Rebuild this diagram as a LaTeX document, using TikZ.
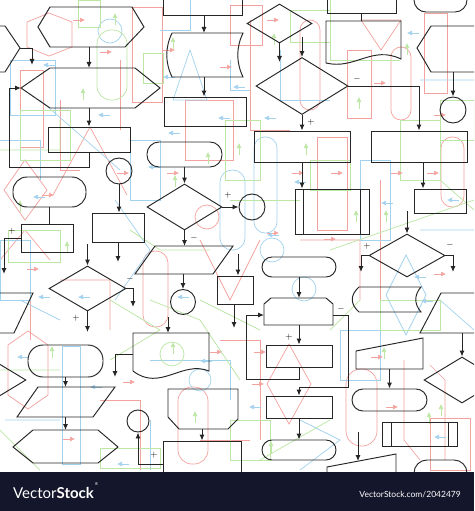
\documentclass[tikz,border=0pt]{standalone}
\usepackage{fontspec}
\usepackage{tikz}
\usetikzlibrary{positioning,arrows.meta,shapes.geometric}
\newfontfamily\logofont{Lato}
\definecolor{bgred}{HTML}{F3A29E}
\definecolor{bgblue}{HTML}{A3D2EE}
\definecolor{bggreen}{HTML}{BCE6A4}
\definecolor{banner}{HTML}{14162B}
\tikzset{
  shp/.style={draw=black!85,line width=0.95pt},
  flow/.style={shp,-{Latex[length=6pt,width=5pt]}},
  proc/.style={shp,rectangle,inner sep=0pt},
  term/.style={shp,rectangle,rounded corners=10pt,inner sep=0pt},
  dec/.style={shp,diamond,inner sep=0pt},
  conn/.style={shp,circle,inner sep=0pt,minimum size=26pt},
  sign/.style={inner sep=0pt,font=\small},
  bgr/.style={draw=bgred,line width=0.7pt},
  bgb/.style={draw=bgblue,line width=0.7pt},
  bgg/.style={draw=bggreen,line width=0.7pt},
  tipr/.style={bgr,-{Latex[length=5pt,width=5pt]}},
  tipb/.style={bgb,-{Latex[length=5pt,width=5pt]}},
  tipg/.style={bgg,-{Latex[length=5pt,width=5pt]}}
}
\begin{document}
\begin{tikzpicture}[x=1pt,y=-1pt]
  \useasboundingbox (0,0) rectangle (474,511);
  \fill[white] (0,0) rectangle (474,472);
  \begin{scope}
    \clip (0,0) rectangle (474,472);
    % pastel texture
    \draw[bgr] (132,7) rectangle (162,102);
    \draw[bgr] (49,13) -- (72,22) -- (72,47) -- (49,56) -- (27,47) -- (27,22) -- cycle;
    \draw[bgr] (53,195) -- (90,127) -- (127,195);
    \draw[bgr] (25,160) -- (47,190) -- (25,220) -- (4,190) -- cycle;
    \draw[bgr] (207,217) circle (12pt);
    \draw[bgr] (185,100) rectangle (233,160);
    \draw[bgr,rounded corners=10pt] (391,47) rectangle (411,120);
    \draw[bgr,rounded corners=11pt] (441,137) rectangle (464,207);
    \draw[bgr] (424,13) rectangle (447,93);
    \draw[bgr] (347,50) rectangle (371,118);
    \draw[bgr] (317,137) rectangle (347,230);
    \draw[bgr,rounded corners=12pt] (143,251) rectangle (168,327);
    \draw[bgr] (28,331) -- (48,345) -- (48,395) -- (28,409) -- (8,395) -- (8,345) -- cycle;
    \draw[bgr,rounded corners=14pt] (178,387) rectangle (208,464);
    \draw[bgr,rounded corners=15pt] (346,369) rectangle (377,446);
    \draw[bgr] (289,344) -- (311,384) -- (289,424) -- (267,384) -- cycle;
    \draw[bgr] (20,70) rectangle (43,147);
    \draw[bgr] (361,20) -- (401,20) -- (381,50) -- cycle;
    \draw[bgr] (430,418) rectangle (470,470);
    \draw[bgr] (60,280) -- (110,280) -- (110,330) (200,240) -- (230,300) -- (260,240);
    \draw[bgr] (250,20) -- (250,130) -- (290,130) (380,180) -- (380,300) -- (440,300);
    \draw[bgr] (100,400) -- (140,400) -- (140,470) (220,340) -- (260,340) -- (260,440);
    \draw[bgr] (404,360) -- (404,440) -- (420,460) (430,365) -- (445,380) -- (445,460);
    \draw[bgr] (230,5) rectangle (262,45);
    \draw[bgr] (0,300) -- (30,300) -- (30,340) (120,60) -- (120,130);
    \draw[bgr,rounded corners=10pt] (300,20) rectangle (320,110);
    \draw[bgr] (0,260) -- (25,230) -- (50,260) (300,240) -- (360,240) -- (360,300);
    \draw[bgr] (200,440) -- (250,440) (60,100) -- (60,170) -- (80,170);
    \draw[bgb] (110,31) circle (12pt);
    \draw[bgb] (173,100) -- (190,50) -- (207,100) -- cycle;
    \draw[bgb,rounded corners=11pt] (254,137) rectangle (277,233);
    \draw[bgb] (62,346) rectangle (80,464);
    \draw[bgb] (272,250) circle (12pt);
    \draw[bgb] (304,289) circle (12pt);
    \draw[bgb] (406,255) -- (426,295) -- (406,335) -- (386,295) -- cycle;
    \draw[bgb] (360,160) rectangle (390,240);
    \draw[bgb] (10,60) rectangle (55,115);
    \draw[bgb] (200,380) circle (11pt);
    \draw[bgb] (115,200) -- (150,250) -- (115,300) (440,300) -- (474,330);
    \draw[bgb] (0,140) -- (40,140) -- (40,180) (150,420) -- (150,470) (230,60) -- (230,90) -- (250,90);
    \draw[bgb] (300,420) -- (340,440) -- (300,470) (420,80) -- (474,80) (5,420) -- (60,420);
    \draw[bgb] (130,140) rectangle (160,200);
    \draw[bgb] (280,50) -- (280,100) -- (330,100) (0,240) rectangle (30,300);
    \draw[bgb,rounded corners=12pt] (220,170) rectangle (245,250);
    \draw[bgb] (340,330) rectangle (380,380);
    \draw[bgb] (420,230) -- (474,230) (20,300) -- (60,320) (40,100) -- (120,170);
    \draw[bgb] (150,360) -- (230,360) -- (230,400) (190,0) -- (190,30) -- (160,30);
    \draw[bgg] (78,0) rectangle (100,27);
    \draw[bgg,rounded corners=14pt] (97,30) rectangle (127,100);
    \draw[bgg] (143,53) rectangle (163,83);
    \draw[bgg] (172,354) circle (12pt);
    \draw[bgg] (8,230) rectangle (60,262);
    \draw[bgg] (225,120) rectangle (260,180);
    \draw[bgg] (290,10) rectangle (330,42);
    \draw[bgg] (440,100) rectangle (474,140);
    \draw[bgg] (100,448) rectangle (160,468);
    \draw[bgg] (380,300) rectangle (440,330);
    \draw[bgg] (230,420) rectangle (270,460);
    \draw[bgg] (0,150) -- (60,150) -- (60,120) (110,300) -- (160,330) -- (110,360);
    \draw[bgg] (330,250) -- (474,200) (0,430) -- (40,470) (200,300) -- (260,330) (330,330) -- (360,300);
    \draw[bgg] (20,110) rectangle (70,160);
    \draw[bgg] (230,200) -- (300,200) (330,0) -- (330,60) -- (400,60);
    \draw[bgg] (400,120) rectangle (440,180);
    \draw[bgg] (130,230) -- (160,250) -- (210,250) (0,370) -- (60,370);
    \draw[bgg] (260,460) -- (330,420) (150,300) -- (200,320) -- (240,380) (440,180) -- (474,210);
    \draw[bgg] (310,160) rectangle (350,190);
    \foreach \x/\y in {73/20,100/52,163/50,220/67,42/195,117/173,167/173,267/20,374/83,434/115,292/173,331/173,
      391/173,427/173,267/233,27/269,123/382,210/352,63/439,324/239,254/352,252/384,371/357,434/274,386/407}
      \draw[tipr] (\x,\y) -- ++(12,0);
    \foreach \x/\y in {55/65,110/115,175/77,245/87,230/118,180/133,160/167,45/197,276/118,419/33,306/182,
      393/203,459/200,279/235,50/297,90/297,189/297,29/357,212/361,102/387,129/464,261/407,426/277,433/301,446/437}
      \draw[tipb] (\x,\y) -- ++(-12,0);
    \foreach \x/\y in {115/25,173/49,83/100,20/212,208/164,175/187,274/45,359/109,407/55,239/155,306/155,386/222,
      356/222,67/253,173/354,195/423,52/358,271/453,429/424,441/416,384/359}
      \draw[tipg] (\x,\y) -- ++(0,-12);
    % top strip
    \node[proc,minimum width=79pt,minimum height=30pt] (Ra) at (202.5,0) {};
    \node[proc,minimum width=69pt,minimum height=30pt] (Rb) at (361.5,-2) {};
    \node[term,minimum width=53pt,minimum height=28pt,rounded corners=12pt] (Ta) at (440.5,-2) {};
    % stored data
    \draw[shp] (172,33) -- (243,33) .. controls (236,48) and (236,62) .. (243,77)
      -- (172,77) .. controls (165,62) and (165,48) .. (172,33);
    \coordinate (Sa-n) at (204,33);
    \coordinate (Sa-s) at (204,77);
    \draw[flow] (Ra.south -| Sa-n) -- (Sa-n);
    \node[proc,minimum width=82pt,minimum height=29pt] (Rc) at (205,111.5) {};
    \draw[flow] (Sa-s) -- (Sa-s |- Rc.north);
    % hexagons on the left
    \draw[shp] (38,27) -- (50,7) -- (132,7) -- (144,27) -- (125,47) -- (50,47) -- cycle;
    \coordinate (Ha-s) at (89,47);
    \draw[shp] (21,88) -- (50,68) -- (135,68) -- (160,88) -- (135,108) -- (50,108) -- cycle;
    \coordinate (Hb-n) at (89,68);
    \coordinate (Hb-s) at (89,108);
    \coordinate (Hb-w) at (21,88);
    \draw[flow] (Ha-s) -- (Hb-n);
    \node[proc,minimum width=82pt,minimum height=25pt] (Rd) at (89,139.5) {};
    \draw[flow] (Hb-s) -- (Rd.north);
    \draw[flow] (Rd.south) -- ++(0,15) -| ([xshift=-12pt]Hb-w) -- (Hb-w);
    % hexagon wrapping over the edge
    \foreach \dx in {0,-474}
      \draw[shp,xshift=\dx pt] (417,48) -- (431,26) -- (479,26) -- (494,48) -- (479,72) -- (431,72) -- cycle;
    \coordinate (Hc-e) at (20,48);
    \coordinate (Fa) at (32,65);
    \draw[flow] (Hc-e) -| (Fa);
    \coordinate (Hd-s) at (453,72);
    \node[conn] (Ca) at (453,110) {};
    \draw[flow] (Hd-s) -- (Ca.north);
    % decision in the middle
    \node[term,minimum width=75pt,minimum height=25pt,rounded corners=12pt] (Tb) at (184.5,154.5) {};
    \node[dec,minimum width=75pt,minimum height=46pt] (Da) at (184.5,207) {};
    \draw[flow] (Tb.south) -- (Da.north);
    \node[conn] (Cb) at (252,207) {};
    \draw[flow] (Da.east) -- (Cb.west);
    \node[sign] (pa) at (228,195) {$+$};
    \node[sign] (ma) at (194,238) {$-$};
    \draw[shp] (155,246) -- (233,246) -- (213,274) -- (135,274) -- cycle;
    \coordinate (Pa-n) at (184.5,246);
    \coordinate (Pa-s) at (183,274);
    \draw[flow] (Da.south) -- (Pa-n);
    \node[conn,minimum size=25pt] (Cc) at (183,302) {};
    \draw[flow] (Pa-s) -- (Cc.north);
    % left column
    \node[term,minimum width=73pt,minimum height=30pt,rounded corners=14pt] (Tc) at (49.5,192) {};
    \node[proc,minimum width=52pt,minimum height=28pt] (Re) at (47,238) {};
    \draw[shp] (Tc.south) -- (Tc.south |- Re.north);
    \coordinate (Fb) at (4,274);
    \draw[flow] (Re.west) -| (Fb);
    \node[sign] (pb) at (12,231) {$+$};
    \node[conn] (Cd) at (119,171) {};
    \node[proc,minimum width=52pt,minimum height=29pt] (Rf) at (118,227.5) {};
    \draw[flow] (Cd.south) -- (Cd.south |- Rf.north);
    \coordinate (Fc) at (118,262);
    \draw[flow] (Rf.south) -- (Fc);
    \coordinate (Fd) at (87.5,244);
    \node[dec,minimum width=77pt,minimum height=45pt] (Db) at (87.5,288.5) {};
    \draw[flow] (Fd) -- (Db.north);
    \coordinate (Fe) at (133,307);
    \draw[flow] (Db.east) -| (Fe);
    \node[sign] (mb) at (130,279) {$-$};
    \node[sign] (pc) at (76,318) {$+$};
    \coordinate (Ff) at (87.5,332);
    \draw[flow] (Db.south) -- (Ff);
    % parallelogram and decision wrapping over the edge
    \foreach \dx in {0,-474}
      \draw[shp,xshift=\dx pt] (441,293) -- (507,293) -- (488,333) -- (420,333) -- cycle;
    \coordinate (Pb-s) at (462,333);
    \node[dec,minimum width=76pt,minimum height=46pt] (Dc) at (462,380) {};
    \node[dec,minimum width=76pt,minimum height=46pt] (Dd) at (-12,380) {};
    \draw[flow] (Pb-s) -- (Dc.north);
    \node[term,minimum width=75pt,minimum height=32pt,rounded corners=15pt] (Td) at (65.5,361) {};
    \draw[shp] (38,387) -- (115,387) -- (93,417) -- (17,417) -- cycle;
    \coordinate (Pc-n) at (65.5,387);
    \coordinate (Pc-s) at (65.5,417);
    \draw[flow] (Td.south) -- (Pc-n);
    \draw[shp] (13,447) -- (33,430) -- (98,430) -- (118,447) -- (98,463) -- (33,463) -- cycle;
    \coordinate (He-n) at (65.5,430);
    \draw[flow] (Pc-s) -- (He-n);
    % document and manual operation
    \draw[shp] (133,333) -- (209,333) -- (209,371) .. controls (182,360) and (160,392) .. (133,371) -- cycle;
    \coordinate (Ka-n) at (168,333);
    \coordinate (Ka-w) at (133,354);
    \coordinate (Fg) at (168,317);
    \draw[flow] (Fg) -- (Ka-n);
    \coordinate (Fh) at (115,377);
    \draw[flow] (Ka-w) -| (Fh);
    \draw[shp] (168,389) -- (238,389) -- (238,419) -- (228,429) -- (179,429) -- (168,417) -- cycle;
    \coordinate (Ma-s) at (202,429);
    \node[proc,minimum width=78pt,minimum height=40pt] (Rg) at (202,461) {};
    \draw[flow] (Ma-s) -- (Rg.north);
    \node[conn,minimum size=22pt] (Ce) at (138,421) {};
    \draw[flow] ([yshift=-3pt]Rg.west) -| (Ce.south);
    \node[sign] (pd) at (154,455) {$+$};
    % upper right
    \draw[shp] (326,21) -- (401,21) -- (401,59) .. controls (372,45) and (355,70) .. (326,63) -- cycle;
    \coordinate (Kb-n) at (361.5,21);
    \draw[shp] (Rb.south) -- (Kb-n);
    \node[dec,minimum width=65pt,minimum height=39pt] (De) at (279.5,23.5) {};
    \coordinate (Fi) at (279.5,62);
    \draw[flow] (De.south) -- (Fi);
    \node[dec,minimum width=92pt,minimum height=57pt] (Df) at (302,86) {};
    \coordinate (Fj) at (302,37);
    \draw[flow] (Fj) -- (Df.north);
    \node[proc,minimum width=96pt,minimum height=31pt] (Rh) at (302,146.5) {};
    \node[proc,minimum width=96pt,minimum height=31pt] (Ri) at (419,146.5) {};
    \draw[flow] (Df.east) -| (Ri.north);
    \node[sign] (mc) at (357,79) {$-$};
    \draw[flow] (Df.south) -- (Rh.north);
    \node[sign] (pe) at (311,122) {$+$};
    \node[proc,minimum width=74pt,minimum height=45pt] (Rj) at (332,211.5) {};
    \draw[shp] (303,189) -- (303,234) (360,189) -- (360,234);
    \draw[flow] (Rh.south) -- (Rh.south |- Rj.north);
    \node[proc,minimum width=52pt,minimum height=24pt] (Rk) at (440,201) {};
    \draw[flow] ([xshift=4pt]Ri.south) -- ([xshift=4pt]Ri.south |- Rk.north);
    \coordinate (Fk) at (407,211);
    \node[dec,minimum width=76pt,minimum height=43pt] (Dg) at (407,255.5) {};
    \draw[flow] (Fk) -- (Dg.north);
    \coordinate (Fl) at (361,272);
    \coordinate (Fm) at (453,272);
    \draw[flow] (Dg.west) -| (Fl);
    \draw[flow] (Dg.east) -| (Fm);
    \node[sign] (pf) at (367,246) {$+$};
    \node[sign] (md) at (450,245) {$-$};
    % lower middle
    \node[term,minimum width=74pt,minimum height=20pt,rounded corners=10pt] (Te) at (299,267) {};
    \coordinate (Fn) at (238,254);
    \node[proc,minimum width=36pt,minimum height=28pt] (Rl) at (235,290) {};
    \draw[flow] (Fn) -- (Fn |- Rl.north);
    \coordinate (Fo) at (234,328);
    \draw[flow] (Fo |- Rl.south) -- (Fo);
    \draw[shp] (264,304) -- (271,298) -- (326,298) -- (333,304) -- (333,325) -- (264,325) -- cycle;
    \coordinate (Mb-n) at (299,298);
    \coordinate (Mb-s) at (299,325);
    \coordinate (Mb-w) at (264,315);
    \coordinate (Mb-e) at (333,315);
    \draw[flow] (Te.south) -- (Mb-n);
    \node[proc,minimum width=66pt,minimum height=22pt] (Rm) at (299,356) {};
    \draw[flow] (Mb-s) -- (Rm.north);
    \node[sign] (pg) at (289,337) {$+$};
    \draw[flow] (Rm.south) -- ++(0,12) -| ([xshift=-18pt]Mb-w) -- (Mb-w);
    \node[proc,minimum width=66pt,minimum height=22pt] (Rn) at (299,407) {};
    \draw[flow] (Mb-e) -- ++(15,0) |- ([yshift=8pt]Rn.north) -- (Rn.north);
    \node[sign] (me) at (341,309) {$-$};
    \node[term,minimum width=74pt,minimum height=20pt,rounded corners=10pt] (Tf) at (299,450) {};
    \draw[flow] (Rn.south) -- (Tf.north);
    % lower right
    \draw[shp] (359,287) -- (421,287) .. controls (414,295) and (414,304) .. (421,312)
      -- (359,312) .. controls (350,304) and (350,295) .. (359,287);
    \draw[shp] (356,351) -- (423,338) -- (423,369) -- (356,369) -- cycle;
    \coordinate (Qa-s) at (389.5,369);
    \node[term,minimum width=75pt,minimum height=22pt,rounded corners=11pt] (Tg) at (389.5,400) {};
    \draw[flow] (Qa-s) -- (Tg.north);
    \node[proc,minimum width=75pt,minimum height=24pt] (Ro) at (419.5,434) {};
    \draw[shp] (391,422) -- (391,446) (448,422) -- (448,446);
    \coordinate (Fp) at (358,432);
    \draw[shp] (327,467) -- (396,454) -- (396,485) -- (327,485) -- cycle;
    \coordinate (Qb-n) at (358,461);
    \draw[flow] (Fp) -- (Qb-n);
    \node[term,minimum width=53pt,minimum height=30pt,rounded corners=13pt] (Th) at (440.5,475) {};
  \end{scope}
  % banner
  \fill[banner] (0,472) rectangle (474,511);
  \node[anchor=base west,text=white,inner sep=0pt] (logo) at (13,498)
    {\logofont\fontsize{15}{15}\selectfont Vector\textbf{Stock}};
  \node[anchor=south west,text=white,inner sep=0.5pt] (reg) at (logo.north east)
    {\logofont\fontsize{4}{4}\selectfont ®};
  \node[anchor=base east,text=white,inner sep=0pt] (url) at (461,497)
    {\logofont\fontsize{8.5}{8.5}\selectfont VectorStock.com/2042479};
\end{tikzpicture}
\end{document}
